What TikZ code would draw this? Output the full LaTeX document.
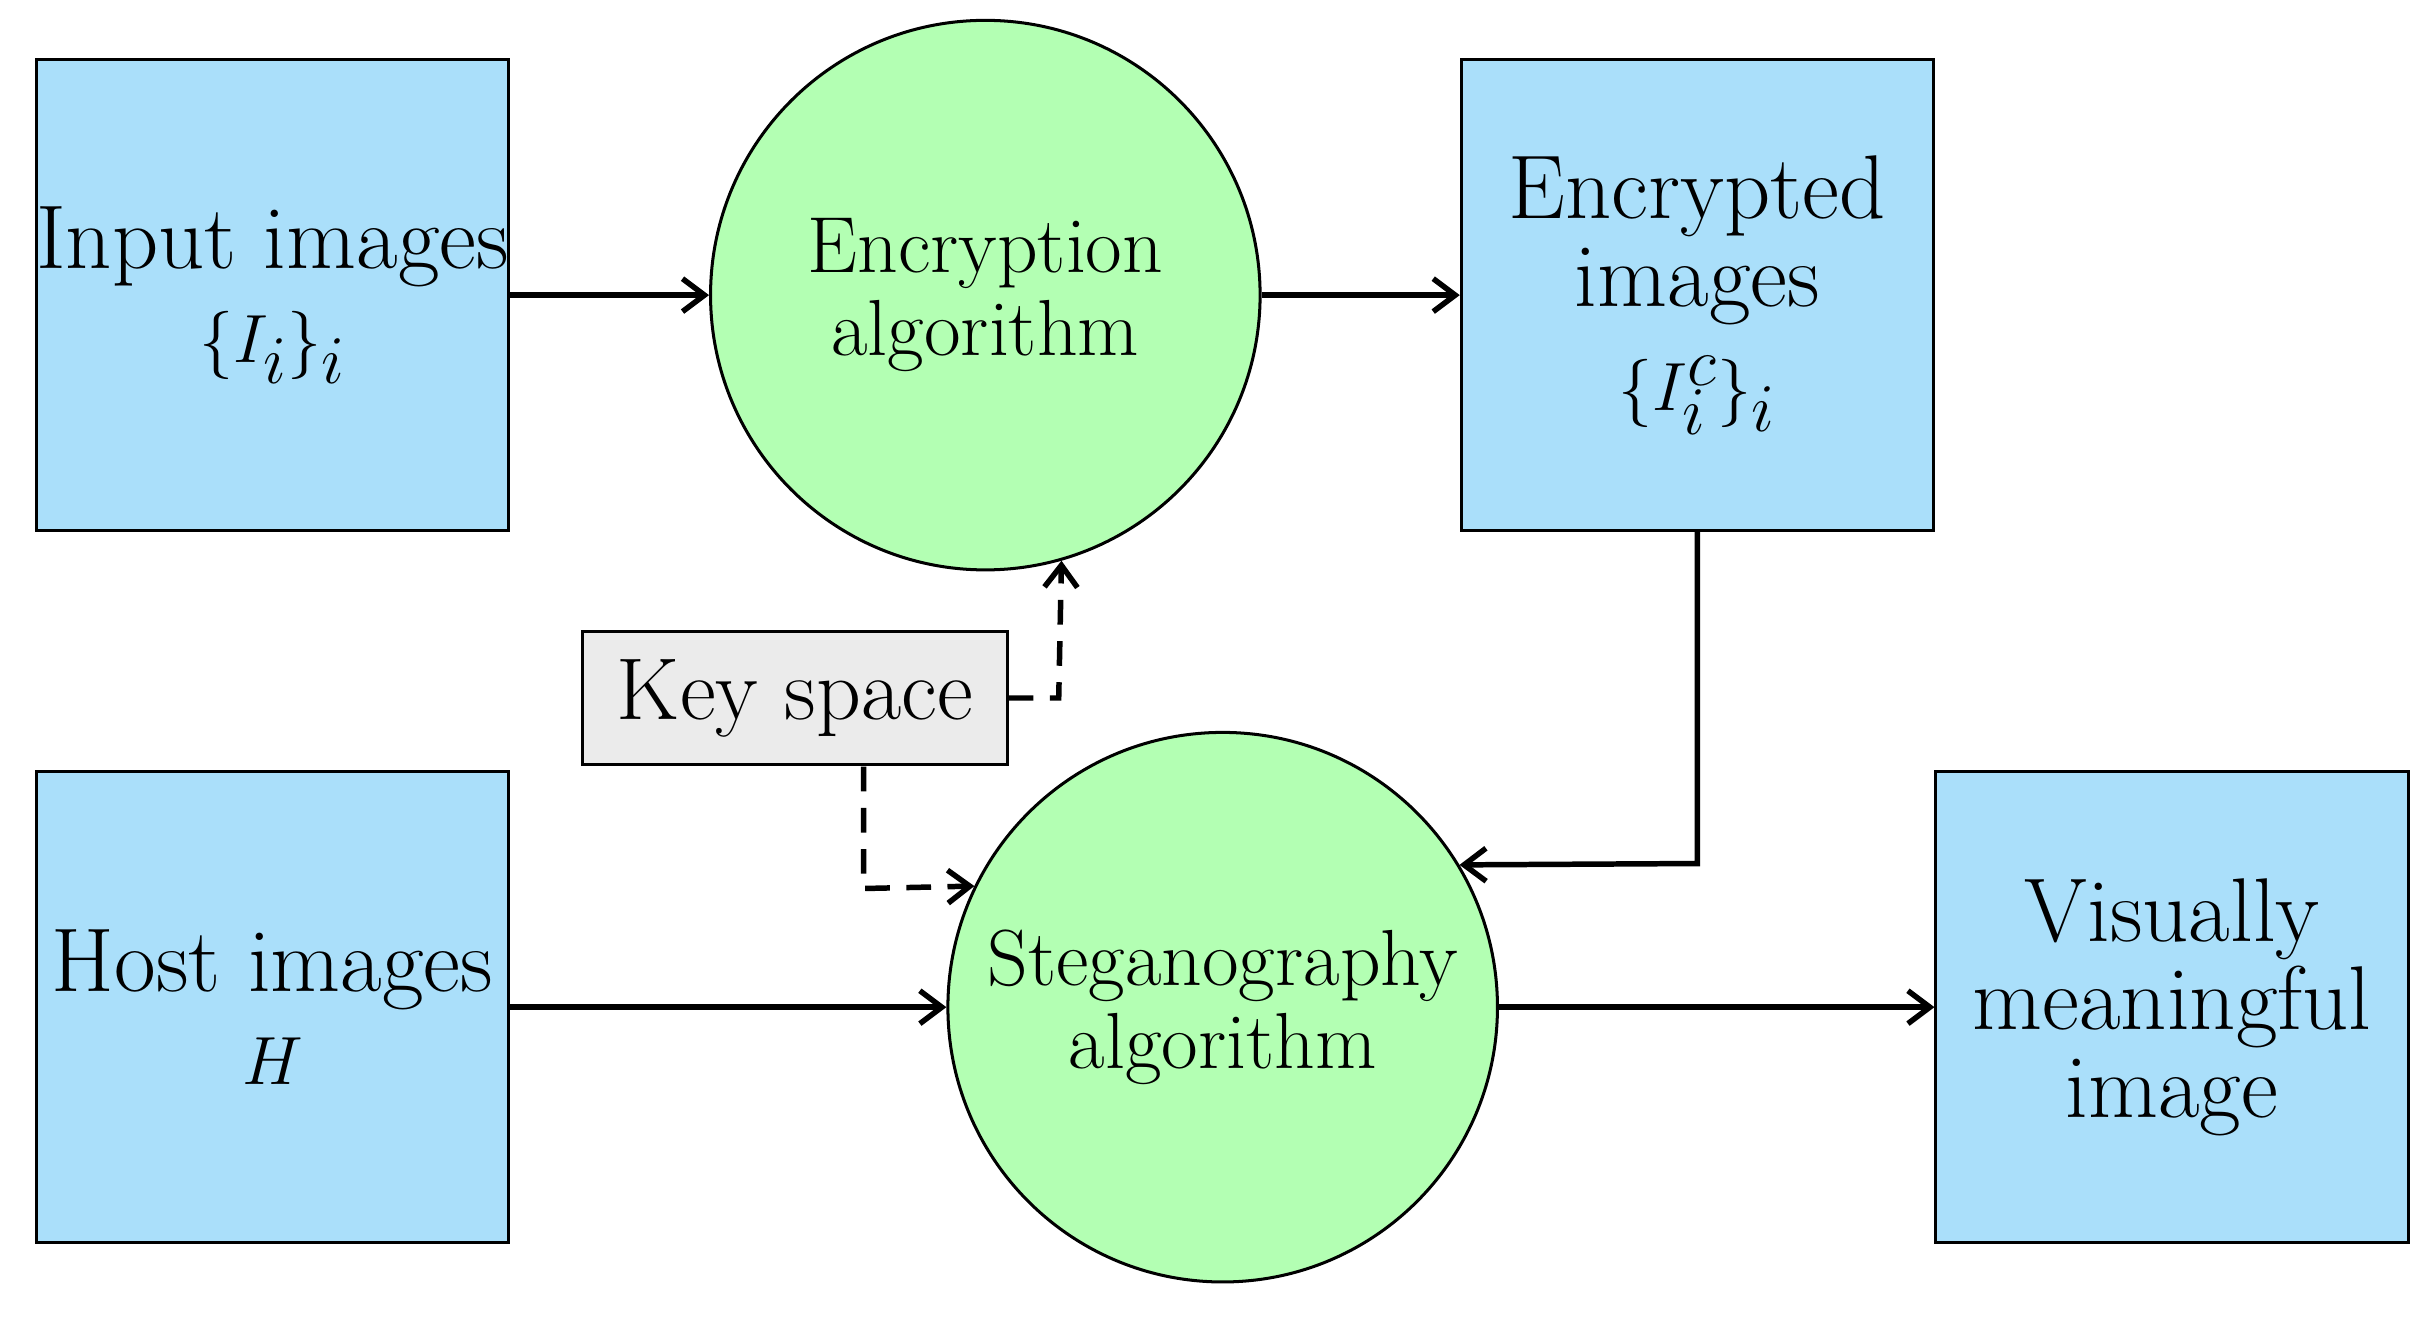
\documentclass[tikz,border=0pt]{standalone}
\usetikzlibrary{arrows.meta}
\definecolor{bx}{RGB}{170,223,250}
\definecolor{gc}{RGB}{179,255,179}
\definecolor{kg}{RGB}{235,235,235}
\begin{document}
\begin{tikzpicture}[x=0.02cm,y=-0.02cm,
  box/.style={draw,line width=1.1pt,fill=bx,minimum width=6.05cm,minimum height=6.03cm,align=center,inner sep=0pt,font=\fontsize{33}{38}\selectfont},
  circ/.style={draw,line width=1.1pt,fill=gc,circle,minimum size=7.04cm,align=center,inner sep=0pt,font=\fontsize{29}{34}\selectfont},
  arr/.style={line width=2pt,-{Straight Barb[length=8pt,width=12pt]}},
  darr/.style={arr,dash pattern=on 9pt off 6pt}]
\useasboundingbox (0,0) rectangle (1560,847);
\node[box] (in) at (174.5,189) {Input images\\[-4pt]$\{I_i\}_i$};
\node[circ] (enc) at (631,189) {Encryption\\[-4pt]algorithm};
\node[box] (encd) at (1087,189) {Encrypted\\[-6pt]images\\[0pt]$\{I_i^c\}_i$};
\node[draw,line width=1.1pt,fill=kg,minimum width=5.44cm,minimum height=1.7cm,inner sep=0pt,font=\fontsize{32}{38}\selectfont] (key) at (509,447) {Key space};
\node[box] (host) at (174.5,645) {Host images\\[-4pt]$H$};
\node[circ] (steg) at (783,645) {Steganography\\[-4pt]algorithm};
\node[box] (vis) at (1391,645) {Visually\\[-6pt]meaningful\\[-6pt]image};
\draw[arr] (in) -- (enc);
\draw[arr] (enc) -- (encd);
\draw[arr] (host) -- (steg);
\draw[arr] (steg) -- (vis);
\coordinate (c1) at (1087,553);
\draw[arr] (encd.south) -- (c1) -- (steg.31.3);
\coordinate (k1) at (678,447);
\draw[darr] (key.east) -- (k1) -- (enc.-74.6);
\coordinate (k2) at (553,491);
\coordinate (k3) at (553,569);
\draw[darr] (k2) -- (k3) -- (steg.154.6);
\end{tikzpicture}
\end{document}
